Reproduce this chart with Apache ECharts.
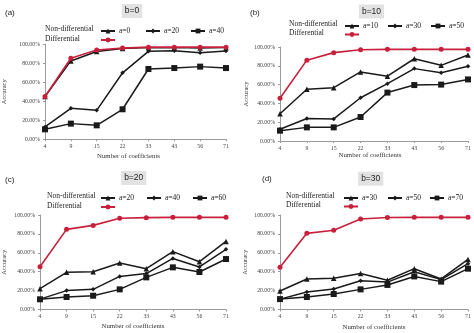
<!DOCTYPE html>
<html><head><meta charset="utf-8">
<script src="https://cdn.jsdelivr.net/npm/echarts@6/dist/echarts.min.js"></script>
<style>html,body{margin:0;padding:0;background:#fff}#c{width:474px;height:333px}</style>
</head><body><div id="c"></div>
<script>
const categories = ['4','9','15','22','33','43','56','71'];
const yTickValues = [0, 20, 40, 60, 80, 100];

// Panel (a) b=0
const aDiff = [45, 85.3, 94, 96, 97, 97, 97, 97];
const aA0   = [45, 82.5, 92.5, 95.5, 96.5, 96.5, 96, 96.5];
const aA20  = [13, 32.6, 30.5, 70, 92.6, 93.3, 91, 93];
const aA40  = [10.5, 16.5, 14.7, 31.6, 74, 75, 76.5, 75];
// Panel (b) b=10
const bDiff = [45.5, 86, 94, 97, 97.5, 97.5, 97.5, 97.5];
const bA10  = [29, 55, 56.7, 73.5, 69, 87.5, 80.5, 91.5];
const bA30  = [12.5, 24, 23.5, 46, 61, 77, 72.5, 79.5];
const bA50  = [11, 14.5, 14.5, 25.5, 51.5, 59.5, 60, 65.5];
// Panel (c) b=20
const cDiff = [45.3, 84.8, 89, 96.5, 97.2, 97.5, 97.5, 97.5];
const cA20  = [22, 39.3, 40, 49.2, 43.2, 61.2, 50.6, 72];
const cA40  = [11, 20, 21.3, 35, 38, 54, 45, 63.7];
const cA60  = [10.8, 13.2, 14.6, 21.3, 34, 44.6, 39.7, 53.4];
// Panel (d) b=30
const dDiff = [44.6, 80.6, 83.8, 95.8, 97.3, 97.5, 97.5, 97.5];
const dA30  = [19.6, 32.3, 33, 38, 31, 43.2, 32.3, 53];
const dA50  = [11, 18.5, 21.7, 30.5, 29, 40, 31.6, 48.5];
const dA70  = [11, 13.2, 16.4, 21.3, 26, 35, 29.5, 43.2];

const panelLetters = ['(a)', '(b)', '(c)', '(d)'];
const panelTitles = ['b=0', 'b=10', 'b=20', 'b=30'];
const seriesLabels = [['a=0','a=20','a=40'], ['a=10','a=30','a=50'], ['a=20','a=40','a=60'], ['a=30','a=50','a=70']];
const seriesData = [[aA0, aA20, aA40], [bA10, bA30, bA50], [cA20, cA40, cA60], [dA30, dA50, dA70]];
const diffData = [aDiff, bDiff, cDiff, dDiff];
const diffLabel = 'Differential';
const nonDiffLabel = 'Non-differential';
const xName = 'Number of coefficients';
const yName = 'Accuracy';

// layout
const grids = [
  {left: 45, top: 44.3, width: 181, height: 95},
  {left: 280, top: 47, width: 188, height: 94},
  {left: 39, top: 215, width: 187, height: 94.5},
  {left: 280, top: 215, width: 188, height: 94.5}
];
const yNameGap = [37, 30, 32, 31];
const xNameGap = [13, 11, 13, 14];
const xNameShift = [14, 8, 0, 0];
const letterPos = [[5, 12.7], [250, 12.7], [5, 180], [262, 178.7]];
const titlePos = [[132, 11], [371.5, 11.5], [133.7, 178], [370.7, 178.7]];
const legendRow = [[45, 30, 40], [289, 25, 34.5], [47, 197, 207], [286, 197, 206.5]];
const legendIconX = [[100, 145, 190], [344, 387, 430], [100, 146, 192], [343, 387, 429]];
const symbols = ['triangle', 'diamond', 'rect'];
const symbolSizes = [5.5, 4.5, 6];
const RED = '#c8203c';
const BLACK = '#1a1a1a';
const SERIF = 'Liberation Serif';

const option = {
  animation: false,
  backgroundColor: '#fff',
  grid: grids.map(g => Object.assign({containLabel: false}, g)),
  xAxis: grids.map((g, i) => ({
    type: 'category', gridIndex: i, data: categories, boundaryGap: false,
    name: xName, nameLocation: 'middle', nameGap: xNameGap[i],
    nameTextStyle: {fontFamily: SERIF, fontSize: 6.8, color: '#333', padding: [0, xNameShift[i], 0, 0]},
    axisLine: {lineStyle: {color: '#9a9a9a', width: 1}},
    axisTick: {show: true, alignWithLabel: true, length: 2, lineStyle: {color: '#9a9a9a'}},
    axisLabel: {fontFamily: SERIF, fontSize: 5.8, color: '#444', margin: 4},
    splitLine: {show: false}
  })),
  yAxis: grids.map((g, i) => ({
    type: 'value', gridIndex: i, min: 0, max: 100, interval: 20,
    name: yName, nameLocation: 'middle', nameRotate: 90, nameGap: yNameGap[i],
    nameTextStyle: {fontFamily: SERIF, fontSize: 6.5, color: '#333'},
    axisLine: {show: true, lineStyle: {color: '#9a9a9a', width: 1}},
    axisTick: {show: true, length: 2, lineStyle: {color: '#9a9a9a'}},
    axisLabel: {fontFamily: SERIF, fontSize: 5.8, color: '#444', margin: 5,
      formatter: v => yTickValues.includes(v) ? v.toFixed(2) + '%' : ''},
    splitLine: {show: false}
  })),
  legend: [],
  series: [],
  graphic: []
};

for (let p = 0; p < 4; p++) {
  for (let k = 0; k < 3; k++) {
    const name = p + ':' + seriesLabels[p][k];
    option.series.push({
      type: 'line', name: name, xAxisIndex: p, yAxisIndex: p, data: seriesData[p][k],
      symbol: symbols[k], symbolSize: symbolSizes[k],
      lineStyle: {color: BLACK, width: 1.5}, itemStyle: {color: BLACK}, z: 2
    });
    option.legend.push({
      left: legendIconX[p][k], top: legendRow[p][1] - 3, padding: 0, itemGap: 0,
      itemWidth: 14, itemHeight: 6, selectedMode: false, data: [name],
      formatter: n => n.split(':')[1],
      textStyle: {fontFamily: SERIF, fontSize: 7.5, color: '#222', padding: [0, 0, 0, -1]}
    });
  }
  const dname = p + ':';
  option.series.push({
    type: 'line', name: dname, xAxisIndex: p, yAxisIndex: p, data: diffData[p],
    symbol: 'circle', symbolSize: 5,
    lineStyle: {color: RED, width: 1.6}, itemStyle: {color: RED}, z: 3
  });
  option.legend.push({
    left: legendIconX[p][0], top: legendRow[p][2] - 3, padding: 0,
    itemWidth: 14, itemHeight: 6, selectedMode: false, data: [dname],
    formatter: () => '', textStyle: {fontSize: 7.5}
  });
  option.graphic.push(
    {type: 'text', left: legendRow[p][0], top: legendRow[p][1] - 5,
     style: {text: nonDiffLabel, font: '7.5px "Liberation Serif"', fill: '#222'}},
    {type: 'text', left: legendRow[p][0], top: legendRow[p][2] - 5,
     style: {text: diffLabel, font: '7.5px "Liberation Serif"', fill: '#222'}},
    {type: 'text', x: letterPos[p][0], y: letterPos[p][1],
     style: {text: panelLetters[p], font: '8px "Liberation Sans"', fill: '#222', verticalAlign: 'middle'}},
    {type: 'text', x: titlePos[p][0], y: titlePos[p][1],
     style: {text: panelTitles[p], font: '8.5px "Liberation Sans"', fill: '#222', align: 'center', verticalAlign: 'middle',
       backgroundColor: '#e2e2e2', padding: [3, 3, 2, 3]}}
  );
}

const chart = echarts.init(document.getElementById('c'), null, {renderer: 'canvas'});
chart.setOption(option);
</script>
</body></html>
